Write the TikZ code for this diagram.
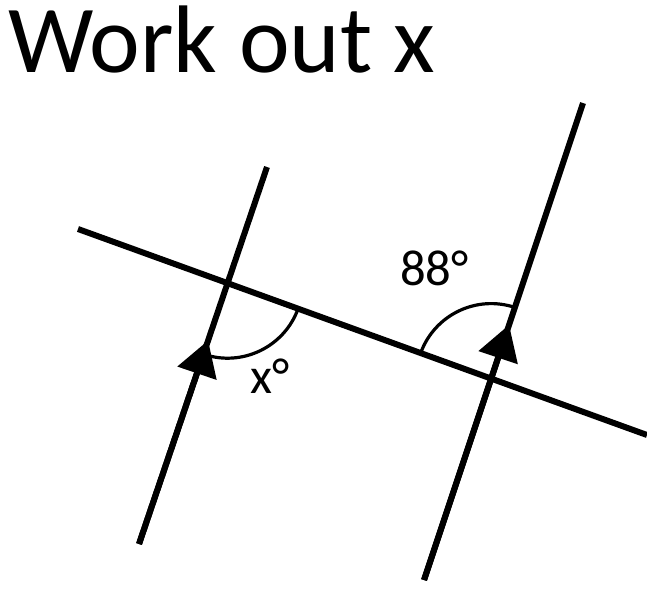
\documentclass[tikz,border=0pt]{standalone}
\usepackage{fontspec}
\setmainfont{Carlito}
\usetikzlibrary{arrows.meta,calc}
\begin{document}
\begin{tikzpicture}[x=.75pt,y=-.75pt,
  linie/.style={line width=4.5pt},
  bogen/.style={line width=2.4pt},
  pfeil/.style={-{Triangle[length=26pt,width=30pt]}},
  beschr/.style={anchor=base west,inner sep=0pt,font=\fontsize{38}{38}\selectfont}]
\useasboundingbox (0,0) rectangle (647,604);
% Ueberschrift
\node[anchor=base west,inner sep=0pt,font=\fontsize{72}{72}\selectfont] (titel) at (8,72) {Work out x};
% Geraden
\coordinate (ta) at (78,229);
\coordinate (tb) at (647,435);
\coordinate (la) at (139,544);
\coordinate (lb) at (267,167);
\coordinate (ra) at (424,580);
\coordinate (rb) at (583,103);
\draw[linie] (ta) -- (tb);
\draw[linie] (la) -- (lb);
\draw[linie] (ra) -- (rb);
% Schnittpunkte
\coordinate (sl) at (intersection of ta--tb and la--lb);
\coordinate (sr) at (intersection of ta--tb and ra--rb);
% Pfeile (parallel)
\coordinate (pl) at ($(la)!.54!(lb)$);
\coordinate (pr) at ($(ra)!.535!(rb)$);
\draw[linie,pfeil] (la) -- (pl);
\draw[linie,pfeil] (ra) -- (pr);
% Winkel
\draw[bogen] ($(sl)+(19.9:75)$) arc[start angle=19.9,end angle=108.75,radius=75];
\draw[bogen] ($(sr)+(-160.1:75)$) arc[start angle=-160.1,end angle=-71.56,radius=75];
\node[beschr] (wx) at (250,393) {x°};
\node[beschr] (w88) at (400,285) {88°};
\end{tikzpicture}
\end{document}
